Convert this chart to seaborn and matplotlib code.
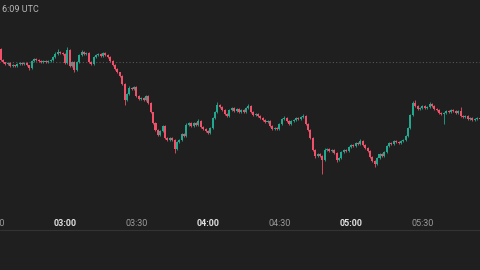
import numpy as np
import pandas as pd
import matplotlib
matplotlib.use("Agg")
import matplotlib.pyplot as plt
from matplotlib.lines import Line2D
import seaborn as sns

# 1-minute candles starting 02:33 UTC, open = previous close
first_open = 251
closes = [
    240, 238, 236, 237, 234, 235, 234, 236, 237, 236, 237, 235, 232, 239, 241, 240, 239, 238, 239, 238,
    239, 240, 243, 246, 248, 247, 246, 237, 250, 234, 238, 230, 238, 245, 248, 246, 247, 238, 236, 243,
    245, 246, 244, 247, 245, 243, 239, 235, 231, 228, 224, 216, 200, 206, 212, 211, 213, 204, 201, 202,
    200, 204, 197, 188, 177, 170, 165, 169, 174, 162, 160, 162, 160, 151, 158, 160, 166, 164, 175, 177,
    174, 177, 175, 179, 173, 171, 169, 167, 172, 182, 188, 195, 193, 190, 186, 184, 190, 192, 189, 191,
    188, 190, 188, 192, 194, 188, 185, 186, 184, 182, 180, 178, 179, 174, 171, 172, 171, 176, 181, 182,
    179, 176, 179, 180, 182, 181, 183, 184, 176, 170, 162, 150, 144, 146, 144, 140, 150, 151, 149, 150,
    147, 140, 142, 148, 150, 149, 153, 155, 154, 157, 156, 159, 155, 152, 149, 143, 139, 136, 142, 146,
    144, 148, 154, 157, 156, 159, 158, 157, 159, 160, 164, 172, 185, 197, 194, 191, 192, 194, 192, 193,
    196, 194, 191, 190, 187, 186, 187, 189, 188, 190, 189, 187, 189, 184, 183, 184, 181, 182, 180, 181,
    182, 181,
]
# upper / lower wick beyond the body
wick_up = [
    1, 1, 0, 1, 1, 1, 0, 1, 1, 1, 1, 1, 0, 1, 1, 1, 1, 1, 1, 1,
    1, 1, 1, 2, 3, 1, 1, 1, 3, 1, 1, 1, 1, 1, 2, 1, 1, 1, 1, 1,
    1, 1, 1, 1, 1, 1, 1, 1, 1, 1, 0, 1, 1, 1, 2, 1, 1, 1, 1, 1,
    1, 1, 1, 1, 0, 1, 1, 1, 1, 1, 1, 1, 1, 1, 1, 1, 1, 1, 2, 1,
    1, 1, 1, 2, 1, 1, 1, 1, 1, 1, 1, 3, 1, 1, 1, 1, 1, 1, 1, 1,
    1, 1, 1, 1, 2, 1, 1, 1, 1, 1, 1, 1, 1, 1, 1, 1, 1, 1, 1, 2,
    1, 1, 1, 1, 1, 1, 1, 2, 1, 1, 1, 1, 1, 1, 1, 1, 2, 1, 1, 1,
    1, 1, 1, 1, 1, 1, 1, 1, 1, 1, 1, 2, 1, 1, 1, 1, 1, 1, 1, 1,
    1, 1, 1, 1, 1, 1, 1, 1, 1, 1, 1, 1, 1, 2, 3, 1, 1, 1, 1, 1,
    2, 1, 1, 1, 1, 1, 1, 1, 1, 1, 1, 1, 1, 4, 1, 1, 1, 1, 1, 1,
    1, 1,
]
wick_dn = [
    1, 1, 1, 1, 1, 1, 1, 1, 1, 1, 1, 1, 2, 1, 1, 1, 1, 1, 1, 1,
    1, 1, 1, 1, 1, 1, 1, 1, 1, 1, 1, 2, 1, 1, 1, 1, 1, 1, 1, 1,
    1, 1, 1, 1, 1, 1, 1, 1, 1, 1, 1, 1, 5, 1, 1, 1, 1, 1, 1, 1,
    1, 1, 1, 1, 1, 1, 1, 1, 1, 1, 1, 1, 1, 4, 1, 1, 1, 1, 1, 1,
    1, 1, 1, 1, 1, 1, 1, 1, 1, 1, 1, 1, 1, 1, 1, 1, 1, 1, 1, 1,
    1, 1, 1, 1, 1, 1, 1, 1, 1, 1, 1, 1, 1, 1, 1, 1, 1, 1, 1, 1,
    1, 1, 1, 1, 1, 1, 1, 1, 1, 1, 1, 1, 2, 1, 1, 14, 1, 1, 1, 1,
    1, 2, 1, 1, 1, 1, 1, 1, 1, 1, 1, 1, 1, 1, 1, 1, 1, 3, 1, 1,
    1, 1, 1, 1, 1, 1, 1, 1, 1, 1, 1, 1, 1, 1, 1, 1, 1, 1, 1, 1,
    1, 1, 1, 1, 1, 1, 10, 1, 1, 1, 1, 1, 1, 1, 1, 1, 1, 1, 1, 1,
    1, 1,
]
start_minute = 153  # 02:33 UTC
tick_minutes = [150, 180, 210, 240, 270, 300, 330]
tick_labels = ["02:30", "03:00", "03:30", "04:00", "04:30", "05:00", "05:30"]
ref_price = 238
header = "6:09 UTC"

bg = "#1f1f1f"
up_col = "#22a88f"
dn_col = "#f0506a"

sns.set_theme(style="dark", rc={"axes.facecolor": bg, "figure.facecolor": bg,
                                "axes.grid": False})
plt.rcParams["font.family"] = ["Roboto", "DejaVu Sans"]

df = pd.DataFrame({"close": closes, "up": wick_up, "dn": wick_dn})
df["open"] = df["close"].shift(1).fillna(first_open)
df["minute"] = start_minute + np.arange(len(df))
df["top"] = df[["open", "close"]].max(axis=1)
df["bot"] = df[["open", "close"]].min(axis=1)
df["high"] = df["top"] + df["up"]
df["low"] = df["bot"] - df["dn"]
df["color"] = np.where(df["close"] >= df["open"], up_col, dn_col)

fig = plt.figure(figsize=(4.8, 2.7), dpi=100)
ax = fig.add_axes([-30 / 480, 63 / 270, 510 / 480, 207 / 270])

ax.axhline(ref_price, color="#555555", lw=0.8, ls=(0, (1, 2)), zorder=1)
ax.vlines(df["minute"], df["low"], df["high"], colors=df["color"], lw=0.6, zorder=2)
ax.bar(df["minute"], np.maximum(df["top"] - df["bot"], 0.6), bottom=df["bot"],
       width=0.85, color=df["color"], linewidth=0, zorder=3)

ax.set_xlim(140.16, 354.17)
ax.set_ylim(93, 300)
ax.set_yticks([])
ax.set_xticks(tick_minutes, tick_labels)
ax.tick_params(axis="x", length=0, pad=8.5, labelsize=6.5)
for lbl in ax.get_xticklabels():
    if lbl.get_text().endswith(":00"):
        lbl.set_fontweight("bold")
        lbl.set_color("#e0e0e0")
    else:
        lbl.set_color("#9a9a9a")
sns.despine(ax=ax, left=True, bottom=True)

fig.text(1.5 / 480, 1 - 10 / 270, header, ha="left", va="center", fontsize=6.5, color="#b8b8b8")
fig.add_artist(Line2D([0, 1], [40 / 270, 40 / 270], color="#333333", lw=0.8))

fig.savefig("out.png", dpi=100, facecolor=bg)
